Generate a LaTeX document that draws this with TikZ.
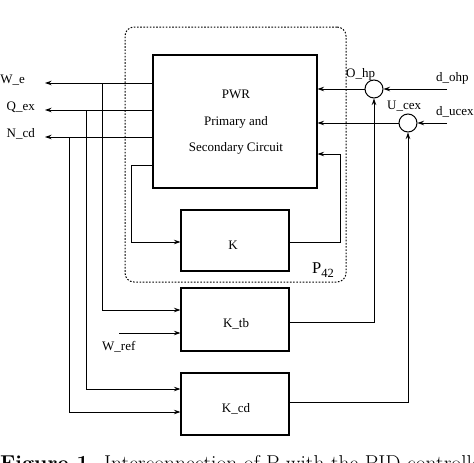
\documentclass[tikz,border=0pt]{standalone}
\usepackage{fontspec}
\newfontfamily\diagfont{Liberation Serif}
\usetikzlibrary{arrows.meta}
\newcommand\lblfont{\diagfont\fontsize{13}{13}\selectfont}
\begin{document}
\begin{tikzpicture}[x=1pt,y=-1pt,
  blk/.style={draw,line width=1.1pt,inner sep=0pt},
  wire/.style={line width=0.9pt},
  arr/.style={wire,-{Stealth[length=6.5pt,width=4.5pt]}},
  lab/.style={font=\lblfont,inner sep=0pt},
  sumpt/.style={draw,circle,line width=1pt,minimum size=18pt,inner sep=0pt},
  grp/.style={draw,rounded corners=9pt,line width=1pt,dash pattern=on 1.6pt off 1.6pt,inner sep=0pt}]
\useasboundingbox (0,0) rectangle (474,463);
% group box
\node[grp,minimum width=221pt,minimum height=255pt] (p42) at (235.5,154.5) {};
\node[anchor=base west,inner sep=0pt,font=\diagfont] (p42lbl) at (312,273) {\fontsize{16.5}{16.5}\selectfont P\raisebox{-4pt}{\fontsize{12.5}{12.5}\selectfont 42}};
% blocks
\node[blk,minimum width=164pt,minimum height=133pt] (pwr) at (235,121.5) {};
\node[inner sep=0pt,align=center,font=\diagfont\fontsize{13}{26.5}\selectfont] (pwrtxt) at (236,122.6) {PWR\\Primary and\\Secondary Circuit};
\node[blk,minimum width=108pt,minimum height=61pt] (k) at (235,240.5) {};
\node[lab] (ktxt) at (233,245) {K};
\node[blk,minimum width=108pt,minimum height=63pt] (ktb) at (235,319.5) {};
\node[lab] (ktbtxt) at (236,324) {K\_tb};
\node[blk,minimum width=108pt,minimum height=62pt] (kcd) at (235,404) {};
\node[lab] (kcdtxt) at (236,409) {K\_cd};
% summing points
\node[sumpt] (ohp) at (374,89) {};
\node[sumpt] (ucex) at (408,123) {};
% coordinates
\coordinate (we) at (45,83);
\coordinate (qe) at (45,110);
\coordinate (nc) at (45,137);
\coordinate (jw) at (102,83);
\coordinate (jq) at (86,110);
\coordinate (jn) at (69,137);
\coordinate (ytb1) at (0,310);
\coordinate (ykc1) at (0,389);
\coordinate (ykc2) at (0,412);
\coordinate (wref) at (119,333);
\coordinate (fbc) at (131,165);
\coordinate (yk) at (0,242);
\coordinate (kout) at (340,154);
\coordinate (dohp) at (447,89);
\coordinate (ducex) at (447,123);
\coordinate (ytbo) at (0,322);
\coordinate (ykco) at (0,402);
% outputs
\draw[arr] (pwr.west |- we) -- (we);
\draw[arr] (pwr.west |- qe) -- (qe);
\draw[arr] (pwr.west |- nc) -- (nc);
% branches into controllers
\draw[arr] (jw) |- (ktb.west |- ytb1);
\draw[arr] (jq) |- (kcd.west |- ykc1);
\draw[arr] (jn) |- (kcd.west |- ykc2);
\draw[arr] (wref) -- (ktb.west |- wref);
% inner loop K
\draw[arr] (pwr.west |- fbc) -- (fbc) |- (k.west |- yk);
\draw[arr] (k.east |- yk) -| (kout) -- (pwr.east |- kout);
% summing points
\draw[arr] (ohp.west) -- (pwr.east |- ohp.west);
\draw[arr] (ucex.west) -- (pwr.east |- ucex.west);
\draw[arr] (dohp) -- (ohp.east);
\draw[arr] (ducex) -- (ucex.east);
\draw[arr] (ktb.east |- ytbo) -| (ohp.south);
\draw[arr] (kcd.east |- ykco) -| (ucex.south);
% labels
\node[lab,anchor=base east] (lwe) at (25,83) {W\_e};
\node[lab,anchor=base east] (lqe) at (35,110) {Q\_ex};
\node[lab,anchor=base east] (lnc) at (35,137) {N\_cd};
\node[lab,anchor=base west] (ldohp) at (436,81) {d\_ohp};
\node[lab,anchor=base west] (lducex) at (436,115) {d\_ucex};
\node[lab,anchor=base west] (lohp) at (346,77) {O\_hp};
\node[lab,anchor=base west] (lucex) at (387,109) {U\_cex};
\node[lab,anchor=base west] (lwref) at (102,350) {W\_ref};
% caption (cut by the picture edge, as in the reference)
\begin{scope}
\clip (0,0) rectangle (474,463);
\node[anchor=base west,inner sep=0pt,font=\fontsize{21.5}{22}\selectfont] (cap) at (0,470) {\textbf{Figure 1.} Interconnection of P with the PID controller};
\end{scope}
\end{tikzpicture}
\end{document}
